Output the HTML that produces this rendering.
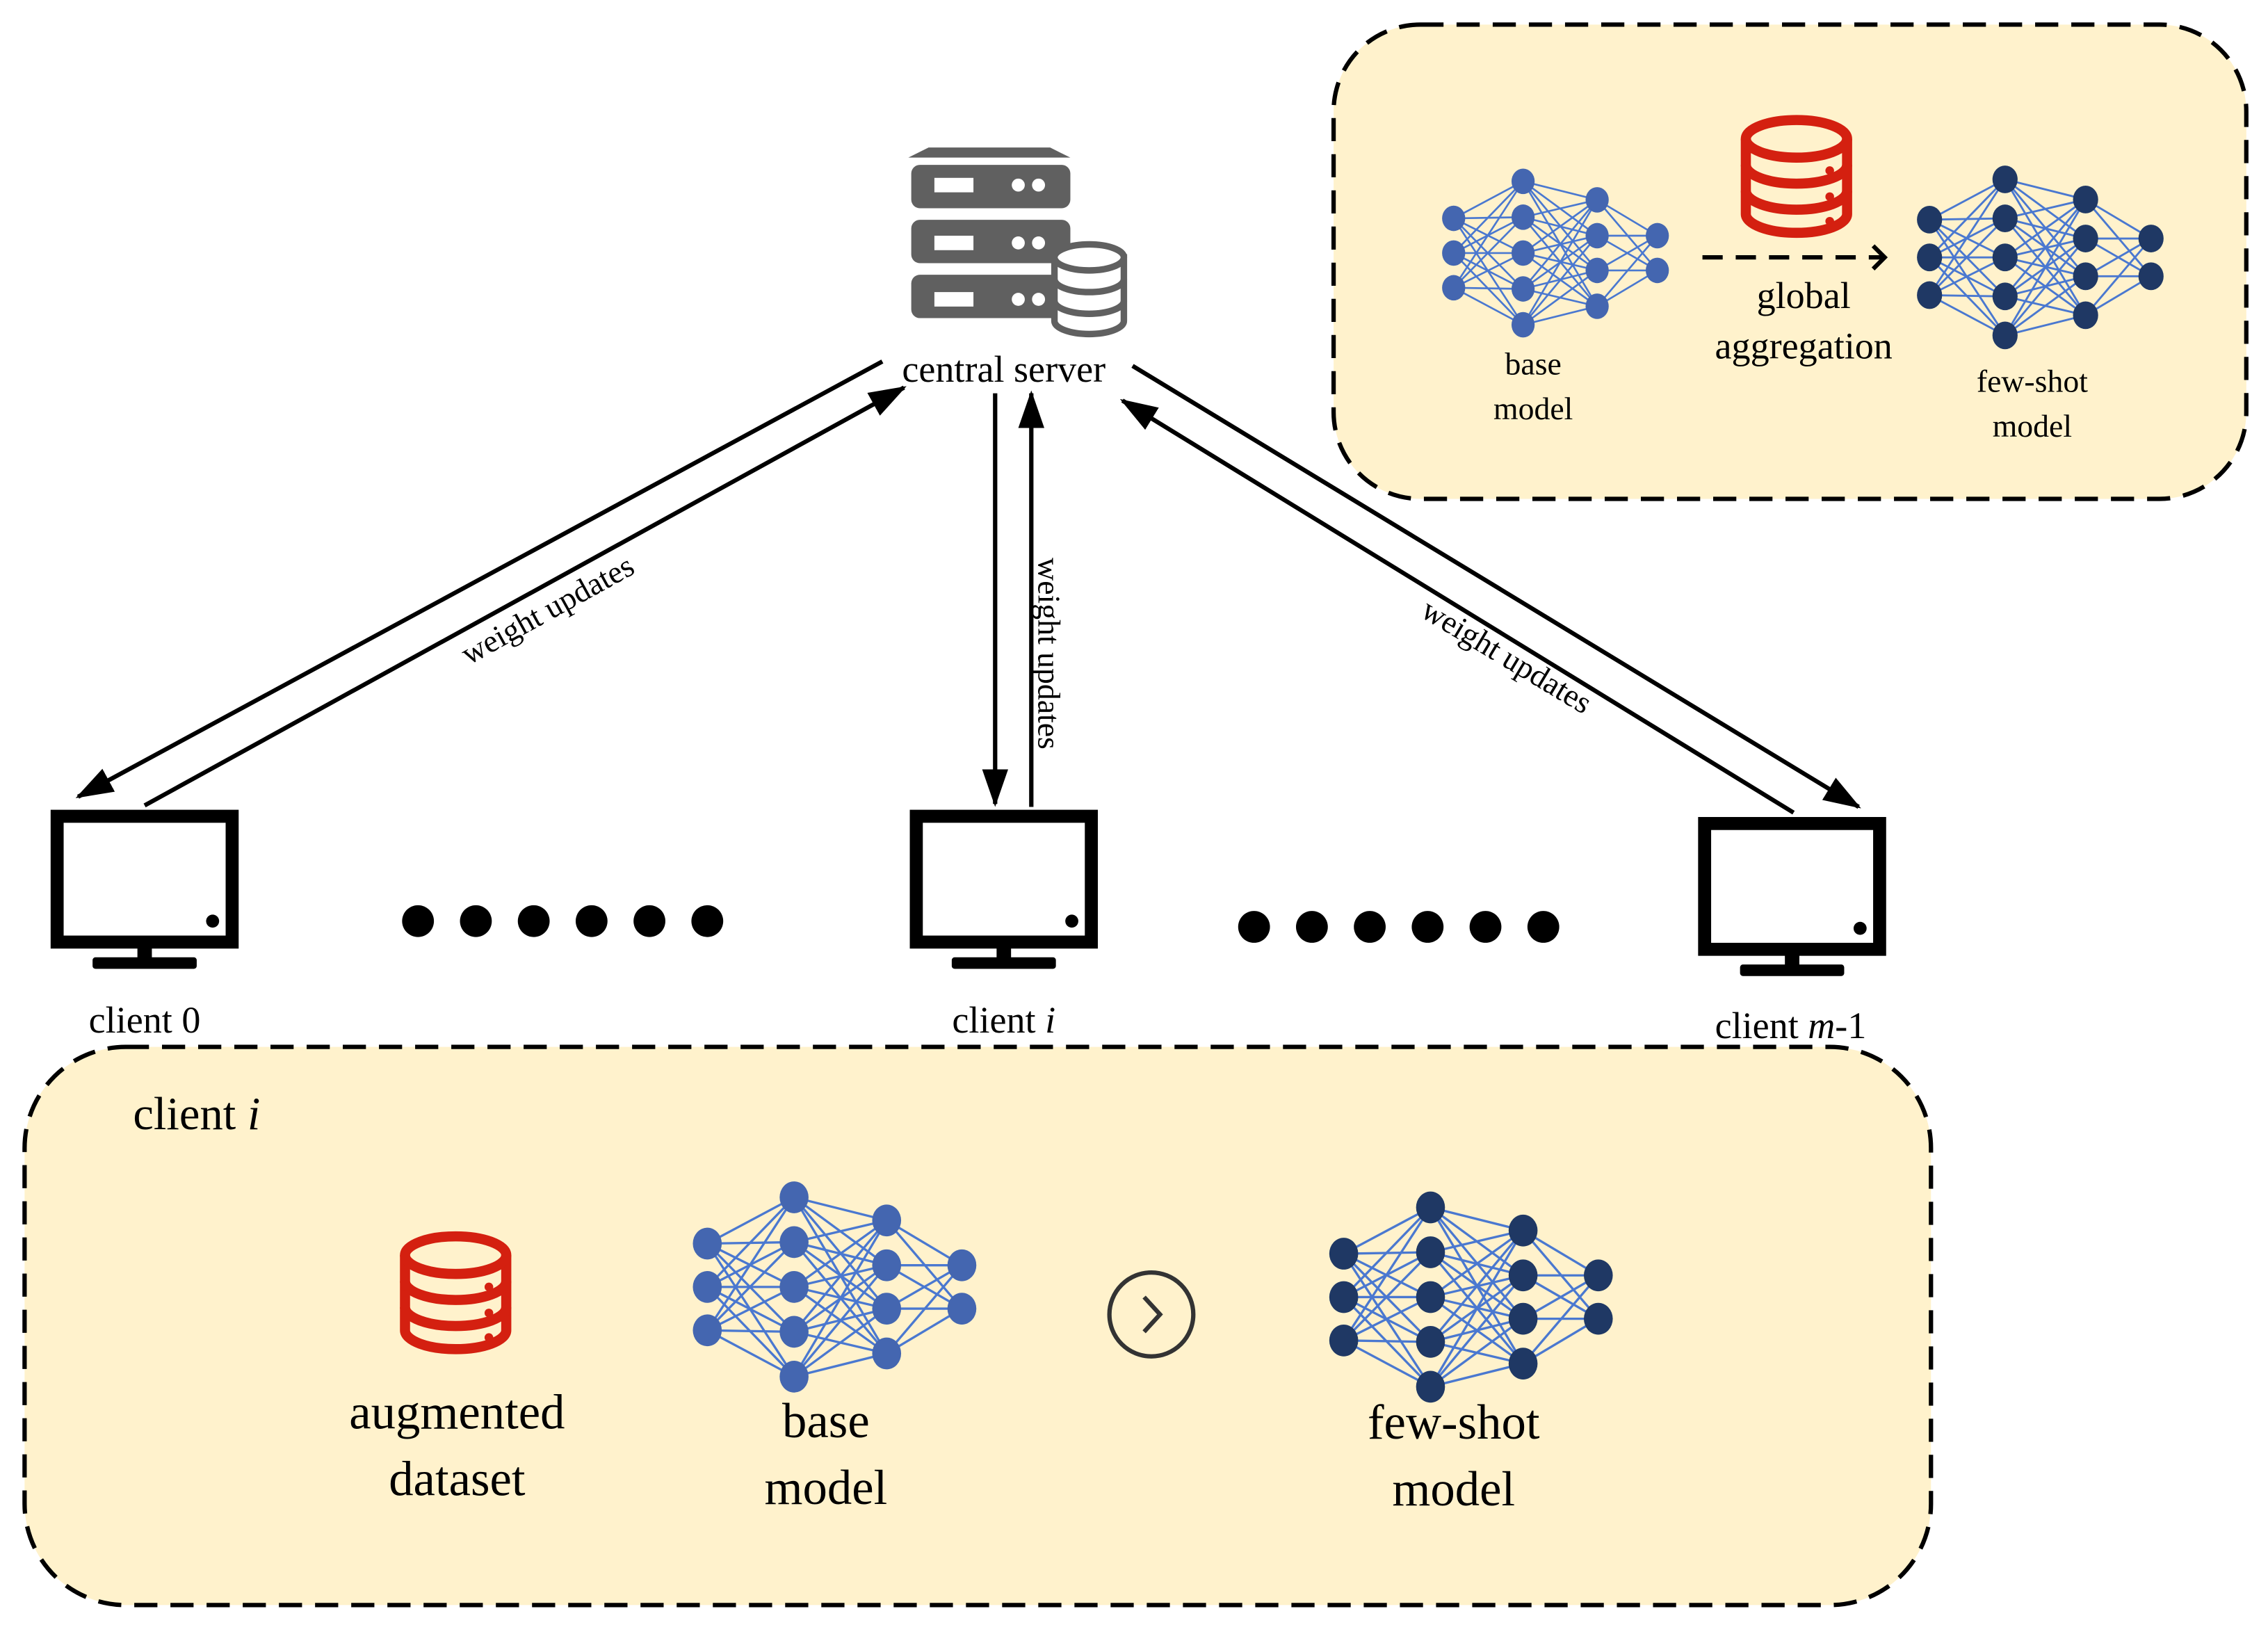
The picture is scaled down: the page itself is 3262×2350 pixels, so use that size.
<!DOCTYPE html>
<html><head><meta charset="utf-8"><style>
html,body{margin:0;padding:0;background:#fff;}
svg{display:block;}
</style></head><body>
<svg id="s" width="3262" height="2350" viewBox="0 0 1568 1130" preserveAspectRatio="none" xmlns="http://www.w3.org/2000/svg" font-family="'Liberation Serif', serif">
<defs>
<marker id="ahb" markerWidth="26" markerHeight="18" refX="24" refY="9" orient="auto" markerUnits="userSpaceOnUse">
<path d="M0,0 L26,9 L0,18 Z" fill="#000"/></marker>
<marker id="aho" markerWidth="14" markerHeight="20" refX="10" refY="10" orient="auto" markerUnits="userSpaceOnUse">
<path d="M2,2 L10,10 L2,18" fill="none" stroke="#000" stroke-width="3"/></marker>
</defs>

<rect x="922" y="17" width="631" height="328" rx="60" fill="#fff2cc" stroke="#000" stroke-width="3" stroke-dasharray="16,9"/>
<rect x="17" y="724" width="1318" height="386" rx="70" fill="#fff2cc" stroke="#000" stroke-width="3" stroke-dasharray="16,9"/>

<g fill="#606060">
<path d="M642,102 L726,102 L740,109 L628,109 Z"/>
<rect x="630" y="114" width="110" height="30" rx="6"/>
<rect x="630" y="152" width="110" height="30" rx="6"/>
<rect x="630" y="190" width="104" height="30" rx="6"/>
</g>
<g fill="#fff">
<rect x="646" y="123" width="27" height="10"/><circle cx="704" cy="128" r="4.5"/><circle cx="718" cy="128" r="4.5"/>
<rect x="646" y="163" width="27" height="10"/><circle cx="704" cy="168" r="4.5"/><circle cx="718" cy="168" r="4.5"/>
<rect x="646" y="202" width="27" height="10"/><circle cx="704" cy="207" r="4.5"/><circle cx="718" cy="207" r="4.5"/>
</g>
<g fill="#fff" stroke="#606060" stroke-width="4.5">
<path d="M729,178 L729,222 A24,9 0 0 0 777,222 L777,178 Z"/>
<ellipse cx="753" cy="178" rx="24" ry="9"/>
<path d="M729,193 A24,9 0 0 0 777,193" fill="none"/>
<path d="M729,208 A24,9 0 0 0 777,208" fill="none"/>
</g>
<text x="694" y="264" font-size="26" text-anchor="middle">central server</text>

<g stroke="#000" stroke-width="3" fill="none">
<line x1="610" y1="250" x2="54" y2="551" marker-end="url(#ahb)"/>
<line x1="100" y1="557" x2="625" y2="268" marker-end="url(#ahb)"/>
<line x1="688" y1="272" x2="688" y2="556" marker-end="url(#ahb)"/>
<line x1="713" y1="558" x2="713" y2="272" marker-end="url(#ahb)"/>
<line x1="783" y1="253" x2="1285" y2="558" marker-end="url(#ahb)"/>
<line x1="1240" y1="562" x2="776" y2="277" marker-end="url(#ahb)"/>
</g>
<text font-size="22" transform="translate(382,428) rotate(-29)" text-anchor="middle">weight updates</text>
<text font-size="22" transform="translate(718,452) rotate(90)" text-anchor="middle">weight updates</text>
<text font-size="22" transform="translate(1038,460) rotate(31)" text-anchor="middle">weight updates</text>

<g id="mon">
<rect x="39.5" y="564.5" width="121" height="87" fill="none" stroke="#000" stroke-width="9"/>
<circle cx="147" cy="637" r="4.5" fill="#000"/>
<rect x="95" y="655" width="10" height="9" fill="#000"/>
<rect x="64" y="662" width="72" height="8" rx="2" fill="#000"/>
</g>
<use href="#mon" x="594" y="0"/>
<use href="#mon" x="1139" y="5"/>

<g fill="#000">
<circle cx="289" cy="637" r="11"/><circle cx="329" cy="637" r="11"/><circle cx="369" cy="637" r="11"/>
<circle cx="409" cy="637" r="11"/><circle cx="449" cy="637" r="11"/><circle cx="489" cy="637" r="11"/>
<circle cx="867" cy="641" r="11"/><circle cx="907" cy="641" r="11"/><circle cx="947" cy="641" r="11"/>
<circle cx="987" cy="641" r="11"/><circle cx="1027" cy="641" r="11"/><circle cx="1067" cy="641" r="11"/>
</g>
<text x="100" y="714" font-size="26" text-anchor="middle">client 0</text>
<text x="694" y="714" font-size="26" text-anchor="middle">client <tspan font-style="italic">i</tspan></text>
<text x="1238" y="718" font-size="26" text-anchor="middle">client <tspan font-style="italic">m</tspan>-1</text>

<text x="92" y="781" font-size="32">client <tspan font-style="italic">i</tspan></text>
<g id="rdb" fill="none" stroke="#d42010" stroke-width="7">
<path d="M280,868 L280,920 A35,13 0 0 0 350,920 L350,868"/>
<ellipse cx="315" cy="868" rx="35" ry="13"/>
<path d="M280,886 A35,13 0 0 0 350,886"/>
<path d="M280,904 A35,13 0 0 0 350,904"/>
</g>
<g id="rdd" fill="#d42010"><circle cx="338" cy="890" r="3"/><circle cx="338" cy="908" r="3"/><circle cx="338" cy="925" r="3"/></g>
<text x="316" y="988" font-size="34" text-anchor="middle">augmented</text>
<text x="316" y="1034" font-size="34" text-anchor="middle">dataset</text>
<text x="571" y="994" font-size="34" text-anchor="middle">base</text>
<text x="571" y="1040" font-size="34" text-anchor="middle">model</text>
<circle cx="796" cy="909" r="29" fill="none" stroke="#333" stroke-width="3"/>
<path d="M791,897 L802,909 L791,921" fill="none" stroke="#333" stroke-width="3"/>
<text x="1005" y="995" font-size="34" text-anchor="middle">few-shot</text>
<text x="1005" y="1041" font-size="34" text-anchor="middle">model</text>

<use href="#rdb" x="927" y="-772"/>
<use href="#rdd" x="927" y="-772"/>
<line x1="1177" y1="178" x2="1303" y2="178" stroke="#000" stroke-width="3" stroke-dasharray="14,9" marker-end="url(#aho)"/>
<text x="1247" y="213" font-size="26" text-anchor="middle">global</text>
<text x="1247" y="248" font-size="26" text-anchor="middle">aggregation</text>
<text x="1060" y="259" font-size="22" text-anchor="middle">base</text>
<text x="1060" y="290" font-size="22" text-anchor="middle">model</text>
<text x="1405" y="271" font-size="22" text-anchor="middle">few-shot</text>
<text x="1405" y="302" font-size="22" text-anchor="middle">model</text>

<g id="nets"></g>
</svg>
<script>
(function(){
var g=document.getElementById('nets');
var L=[[0,[-30,0,30]],[60,[-62,-31,0,31,62]],[124,[-46,-15,15,46]],[176,[-15,15]]];
function nn(x0,yc,s,nf){
 var h='';
 for(var i=0;i<3;i++){var a=L[i],b=L[i+1];
  a[1].forEach(function(ya){b[1].forEach(function(yb){
   h+='<line x1="'+(x0+a[0]*s)+'" y1="'+(yc+ya*s)+'" x2="'+(x0+b[0]*s)+'" y2="'+(yc+yb*s)+'" stroke="#4a78d0" stroke-width="'+(1.6*s)+'"/>';});});}
 L.forEach(function(l){l[1].forEach(function(y){
  h+='<ellipse cx="'+(x0+l[0]*s)+'" cy="'+(yc+y*s)+'" rx="'+(10*s)+'" ry="'+(11*s)+'" fill="'+nf+'"/>';});});
 return h;}
var html='';
html+=nn(489,890,1.0,'#4466b0');
html+=nn(929,897,1.0,'#1f3864');
html+=nn(1005,175,0.8,'#4466b0');
html+=nn(1334,178,0.87,'#1f3864');
g.innerHTML=html;
})();
</script>
</body></html>
